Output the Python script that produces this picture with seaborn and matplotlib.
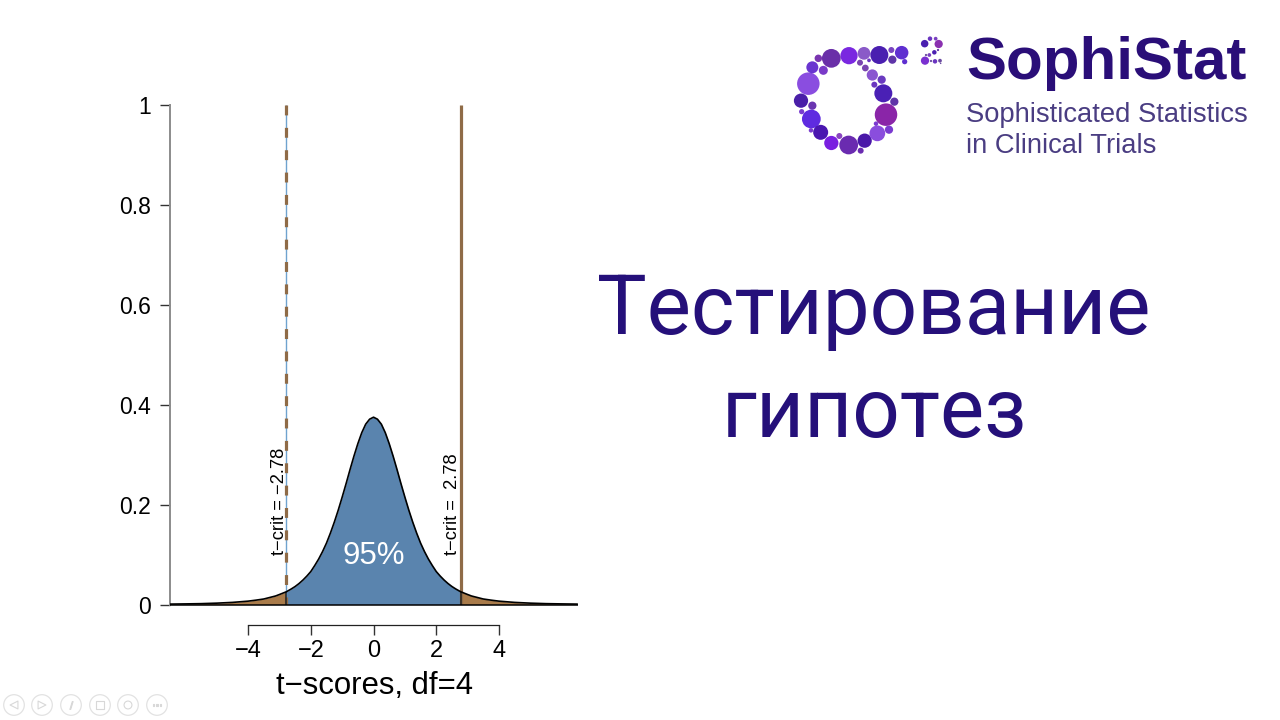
import numpy as np
import pandas as pd
import seaborn as sns
import matplotlib.pyplot as plt

sns.set_theme(style="white")
plt.rcParams["font.family"] = ["Liberation Sans", "DejaVu Sans"]

# density of t with df=4 (right half, mirrored below)
t_half = [0, 0.125, 0.25, 0.375, 0.5, 0.625, 0.75, 0.875, 1, 1.125, 1.25, 1.375, 1.5, 1.625, 1.75, 1.875,
          2, 2.125, 2.25, 2.375, 2.5, 2.625, 2.78, 3, 3.125, 3.25, 3.5, 3.75, 4, 4.5, 5, 5.5, 6, 6.5]
dens_half = [0.375, 0.371, 0.361, 0.344, 0.322, 0.297, 0.270, 0.242, 0.215, 0.189, 0.165, 0.143, 0.123, 0.106,
             0.091, 0.078, 0.066, 0.057, 0.049, 0.042, 0.036, 0.031, 0.0255, 0.020, 0.017, 0.015, 0.011, 0.0087,
             0.0067, 0.0042, 0.0027, 0.0017, 0.0012, 0.0008]
t_crit = 2.78
x_ticks = [-4, -2, 0, 2, 4]
y_ticks = [0, 0.2, 0.4, 0.6, 0.8, 1]
y_labels = ["0", "0.2", "0.4", "0.6", "0.8", "1"]

logo_zx = [55, 33, 67, 35, 64, 63, 92, 124, 148, 176, 212, 224, 262, 297, 258, 288, 313, 280, 253, 275, 247, 226,
           237, 210, 222, 268, 177, 124, 85, 67, 100, 304, 307, 335, 344,
           404, 446, 420, 437, 433, 418, 444, 405, 435, 450, 423, 408, 452]
logo_zy = [161, 212, 227, 245, 267, 301, 307, 339, 318, 345, 362, 332, 310, 299, 281, 254, 215, 190, 164, 149, 135,
           114, 91, 98, 70, 75, 77, 85, 85, 112, 121, 60, 89, 68, 95,
           41, 42, 26, 26, 67, 75, 60, 92, 94, 92, 93, 75, 100]
logo_zr = [30, 19, 11, 7, 25, 6, 20, 19, 8, 25, 8, 19, 21, 11, 6, 30, 11, 24, 8, 11, 15, 9, 5, 8, 17, 24, 23, 25,
           10, 16, 12, 8, 11, 18, 7,
           10, 11, 6, 5, 6, 5, 3, 11, 6, 5, 3, 3, 2]
logo_c = ["#8a4de0", "#4a1fa8", "#6a35b0", "#7a3ccf", "#5f2be0", "#7a3ccf", "#4a16b0", "#7a1fe0", "#8a45c0",
          "#6a2bb0", "#6a2bb0", "#4a18a8", "#8a4ddd", "#7a3ad0", "#7a3ad0", "#8a25a8", "#5f35a8", "#4a20b5",
          "#6a35c0", "#6a3ac0", "#8a55d0", "#7a45b0", "#6a35c0", "#7a45b0", "#8a5ac8", "#4a1fb0", "#7a28e0",
          "#6a2fa8", "#7a35b0", "#6a35d0", "#7a3ac8", "#7a45c0", "#5f35a8", "#5f2fd0", "#5f2fd0",
          "#4a1fb0", "#8a30b0", "#6a35c0", "#7a40c0", "#4a1fb0", "#7a40c0", "#5f35a8", "#7a30d0", "#6a35c0",
          "#6a4aa0", "#6a4aa0", "#6a4aa0", "#6a4aa0"]

title_lines = ["Тестирование", "гипотез"]

t_half = np.array(t_half)
dens_half = np.array(dens_half)
df = pd.DataFrame({"t": np.r_[-t_half[:0:-1], t_half], "density": np.r_[dens_half[:0:-1], dens_half]})

fig = plt.figure(figsize=(12.8, 7.2), dpi=100, facecolor="white")
ax = fig.add_axes([170 / 1280, 1 - 604.5 / 720, 408 / 1280, 499.5 / 720])
ax.set_facecolor("none")

mid = df[df["t"].abs() <= t_crit]
lo = df[df["t"] <= -t_crit]
hi = df[df["t"] >= t_crit]
ax.fill_between(mid["t"], mid["density"], color="#5a84ae", lw=0)
ax.fill_between(lo["t"], lo["density"], color="#a97b4a", lw=0)
ax.fill_between(hi["t"], hi["density"], color="#a97b4a", lw=0)

ax.vlines(-t_crit, 0, 1, color="#6fa3cf", lw=1.0, zorder=2)
# from the top down, so the dash pattern starts at y=1 as in the reference
ax.vlines(-t_crit, 1, 0, color="#8f6b47", lw=2.3, linestyles=[(0, (3.1, 3.9))], zorder=3)
ax.vlines(t_crit, 0, 1, color="#8f6b47", lw=2.3, zorder=3)
ax.vlines([-t_crit, t_crit], 0, df.loc[df["t"] == t_crit, "density"].iloc[0], color="#222222", lw=1.1, zorder=4)
ax.hlines(0, -6.49, 6.52, color="black", lw=1.1, zorder=4, clip_on=False)

sns.lineplot(data=df, x="t", y="density", ax=ax, color="black", lw=1.2, estimator=None, sort=False, zorder=5)

ax.text(0, 0.098, "95%", color="white", fontsize=22.5, ha="center", va="center")
ax.text(-t_crit - 0.22, 0.0995, "t−crit = −2.78", rotation=90, fontsize=13.2, color="black", ha="center", va="bottom")
ax.text(t_crit - 0.25, 0.0995, "t−crit =  2.78", rotation=90, fontsize=13.2, color="black", ha="center", va="bottom")

ax.set_xlim(-6.49, 6.52)
ax.set_ylim(0, 1)
ax.set_xticks(x_ticks, [str(v).replace("-", "−") for v in x_ticks])
ax.set_yticks(y_ticks, y_labels)
ax.tick_params(axis="x", length=7, width=1, color="#333333", labelsize=17, pad=4.5, labelcolor="black", bottom=True)
ax.tick_params(axis="y", length=7.5, width=1, color="#333333", labelsize=16.5, pad=6, labelcolor="black", left=True)
ax.set_xlabel("t−scores, df=4", fontsize=22.4, color="black", labelpad=6)
ax.set_ylabel("")
sns.despine(ax=ax, top=True, right=True)
ax.spines["left"].set_bounds(0, 1)
ax.spines["left"].set_color("#8c8c8c")
ax.spines["left"].set_linewidth(1.4)
ax.spines["bottom"].set_position(("outward", 14.4))
ax.spines["bottom"].set_bounds(-4, 4)
ax.spines["bottom"].set_color("#222222")
ax.spines["bottom"].set_linewidth(0.9)

# overlay in slide pixels for the logo, the heading and the viewer buttons
ov = fig.add_axes([0, 0, 1, 1])
ov.set_xlim(0, 1280)
ov.set_ylim(720, 0)
ov.axis("off")
ov.patch.set_alpha(0)

ov.scatter([790 + v / 3 for v in logo_zx], [30 + v / 3 for v in logo_zy],
           s=[(2.25 * r / 3 * 0.72) ** 2 for r in logo_zr], c=logo_c, lw=0)
ov.text(966, 79, "SophiStat", fontsize=43.2, fontweight="bold", color="#2a0e78", ha="left", va="baseline")
ov.text(966, 122, "Sophisticated Statistics", fontsize=19.7, color="#4a3d82", ha="left", va="baseline")
ov.text(966, 153, "in Clinical Trials", fontsize=19.7, color="#4a3d82", ha="left", va="baseline")

ov.text(874, 334, title_lines[0], fontsize=60, color="#25107a", family="Roboto", ha="center", va="baseline")
ov.text(875, 437, title_lines[1], fontsize=60, color="#25107a", family="Roboto", ha="center", va="baseline")

for bx, mark in zip([14, 42, 71, 100, 128, 157], ["<", ">", "$/$", "s", "o", "$\\cdots$"]):
    ov.scatter([bx], [705], s=220, facecolor="none", edgecolor="#e2e2e2", lw=0.9)
    ov.scatter([bx], [705], s=32, marker=mark, facecolor="none" if mark in "<>so" else "#d8d8d8",
               edgecolor="#d8d8d8", lw=0.8)

fig.savefig("out.png", dpi=100, facecolor="white")
